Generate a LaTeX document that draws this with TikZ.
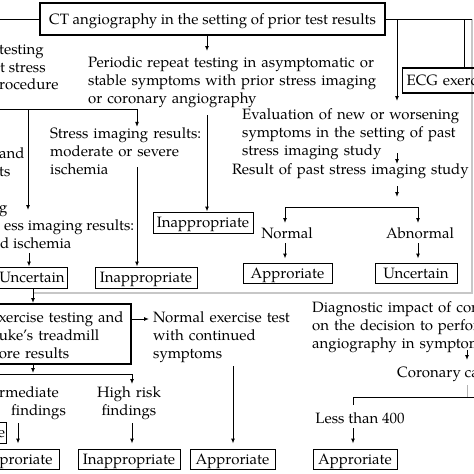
\documentclass[tikz,border=0pt]{standalone}
\usepackage{fontspec}
\setmainfont{TeX Gyre Pagella}
\usetikzlibrary{arrows.meta}
\hyphenpenalty=10000
\begin{document}
\begin{tikzpicture}[x=1pt,y=-1pt,
  every node/.style={font=\fontsize{15}{18}\selectfont},
  txt/.style={inner sep=0pt, text width=400pt, align=left, anchor=base west},
  ctxt/.style={inner sep=0pt, text width=120pt, align=center, anchor=base},
  frag/.style={inner sep=0pt, anchor=base west},
  bx/.style={draw, line width=0.9pt, inner sep=0pt, text height=10pt, text depth=0pt, minimum height=21pt},
  ln/.style={line width=1pt},
  arr/.style={line width=1pt, -{Latex[length=5pt,width=4pt]}},
  framel/.style={draw=black!22, line width=1.5pt}
]
\useasboundingbox (0,0) rectangle (474,474);
\clip (0,0) rectangle (474,474);
\fill[white] (0,0) rectangle (474,474);
% frame
\coordinate (ctR) at (472,19);
\coordinate (frBR) at (472,293);
\coordinate (frBL) at (33,293);
\draw[framel] (ctR) -- (frBR) -- (frBL);
% nodes
\node[bx, minimum width=345pt, minimum height=32pt, line width=1.5pt] (ct) at (212.5,19) {CT angiography in the setting of prior test results};
\node[frag] (tl1) at (-1,54) {testing};
\node[frag] (tl2) at (0,72) {t stress};
\node[frag] (tl3) at (-1,89) {rocedure};
\node[txt] (per) at (88,67) {Periodic repeat testing in asymptomatic or\\stable symptoms with prior stress imaging\\or coronary angiography};
\node[bx, anchor=west, minimum width=94pt, minimum height=25pt, line width=1.2pt, text width=86pt, inner xsep=4pt, align=left] (ecg) at (402,80.5) {ECG exerc};
\node[txt] (sir) at (50,138) {Stress imaging results:\\moderate or severe\\ischemia};
\node[frag] (and) at (-1,158) {and};
\node[frag] (ts) at (-1,176) {ts};
\node[frag] (gg) at (-1,212) {g};
\node[frag] (eir) at (4,230) {ess imaging results:};
\node[frag] (dis) at (0,248) {d ischemia};
\node[txt] (eval) at (242,119) {Evaluation of new or worsening\\symptoms in the setting of past\\stress imaging study};
\node[txt] (res) at (232,174) {Result of past stress imaging study};
\node[frag, anchor=base] (nor) at (287,238) {Normal};
\node[frag, anchor=base] (abn) at (420,238) {Abnormal};
\node[bx, minimum width=100pt] (inap1) at (203,222.5) {Inappropriate};
\node[bx, minimum width=70pt] (unc1) at (32,277.5) {Uncertain};
\node[bx, minimum width=102pt] (inap2) at (146,277.5) {Inappropriate};
\node[bx, minimum width=89pt, minimum height=20pt] (appR) at (287.5,273) {Approriate};
\node[bx, minimum width=82pt, minimum height=20pt] (uncR) at (416,273) {Uncertain};
\node[draw, line width=1.5pt, anchor=north west, inner xsep=2pt, inner ysep=0pt, text width=130pt, text height=14pt, minimum height=60pt, align=left] (exb) at (-4,303) {xercise testing and\\uke’s treadmill\\ore results};
\node[txt] (net) at (153,322) {Normal exercise test\\with continued\\symptoms};
\node[txt] (dia) at (312,312) {Diagnostic impact of coronary\\on the decision to perform\\angiography in symptomatic};
\node[frag] (rme) at (-1,397) {rmediate};
\node[frag] (fin) at (11,415) {findings};
\node[ctxt] (hrf) at (129,397) {High risk\\findings};
\node[frag] (cor) at (397,377) {Coronary ca};
\node[frag, anchor=base] (lt4) at (360,423) {Less than 400};
\node[bx, anchor=east, text width=20pt, align=right, inner xsep=1.5pt] (eL) at (7,432.5) {e};
\node[bx, anchor=east, text width=60pt, align=right, inner xsep=7pt, minimum height=20pt] (apL) at (60,459) {proriate};
\node[bx, minimum width=102pt, minimum height=20pt] (inap3) at (129,459) {Inappropriate};
\node[bx, minimum width=85pt, minimum height=20pt] (ap3) at (232.5,459) {Approriate};
\node[bx, minimum width=84pt, minimum height=20pt] (ap4) at (355,459) {Approriate};
% connectors top
\coordinate (ctL) at (-5,19);
\draw[ln] (ct.west) -- (ctL);
\coordinate (a1) at (207,51);
\draw[arr] (ct.south -| a1) -- (a1);
\draw[ln] (ct.east) -- (ctR);
\coordinate (a2) at (397,101);
\draw[arr] (ct.east -| a2) -- (a2);
\coordinate (e1) at (464,19);
\draw[ln] (e1) -- (e1 |- ecg.north);
% left tree
\coordinate (lt0) at (-5,109);
\coordinate (lt1) at (28,109);
\coordinate (lt2) at (137,109);
\coordinate (lt3) at (28,210);
\draw[ln] (lt0) -- (lt2);
\draw[arr] (lt2) -- (lt2 |- sir.north);
\draw[arr] (lt1) -- (lt3);
\coordinate (v1) at (137,167);
\draw[arr] (v1) -- (v1 |- inap2.north);
\coordinate (v2) at (207,115);
\draw[arr] (v2) -- (v2 |- inap1.north);
\coordinate (v3) at (29,253);
\draw[arr] (v3) -- (v3 |- unc1.north);
% right column
\coordinate (r1) at (397,153);
\coordinate (r2) at (397,164);
\draw[arr] (r1) -- (r2);
\coordinate (r3) at (397,186);
\coordinate (r4) at (397,197);
\draw[arr] (r3) -- (r4);
\coordinate (h1) at (285,207);
\coordinate (h2) at (418,207);
\draw[ln] (h1) -- (h2);
\draw[arr] (h1) -- (285,223);
\draw[arr] (h2) -- (418,223);
\coordinate (n1) at (285,243);
\coordinate (n2) at (418,243);
\draw[arr, shorten >=4pt] (n1) -- (n1 |- appR.north);
\draw[arr, shorten >=4pt] (n2) -- (n2 |- uncR.north);
% exercise part
\coordinate (v4) at (33,288);
\draw[arr] (v4) -- (v4 |- exb.north);
\coordinate (v5) at (130,319);
\draw[arr, shorten >=4pt] (v5) -- (v5 -| net.west);
\coordinate (v6) at (33,363);
\coordinate (v7) at (33,373);
\draw[arr] (v6) -- (v7);
\coordinate (hl0) at (-5,374);
\coordinate (hl1) at (132,374);
\draw[ln] (hl0) -- (hl1);
\draw[arr] (hl1) -- (132,384);
\coordinate (b1) at (18,423);
\draw[arr, shorten >=5pt] (b1) -- (b1 |- apL.north);
\coordinate (b2) at (132,423);
\draw[arr, shorten >=5pt] (b2) -- (b2 |- inap3.north);
\coordinate (b3) at (233,366);
\draw[arr, shorten >=5pt] (b3) -- (b3 |- ap3.north);
% right bottom
\coordinate (c1) at (467,350);
\coordinate (c2) at (467,360);
\draw[arr] (c1) -- (c2);
\coordinate (c3) at (467,385);
\coordinate (c4) at (467,397);
\draw[draw=black!30, line width=1pt] (c3) -- (c4);
\coordinate (c5) at (353,397);
\coordinate (c6) at (480,397);
\draw[ln] (c5) -- (c6);
\draw[ln] (c5) -- (353,405);
\coordinate (c7) at (353,428);
\draw[arr, shorten >=5pt] (c7) -- (c7 |- ap4.north);
\end{tikzpicture}
\end{document}
